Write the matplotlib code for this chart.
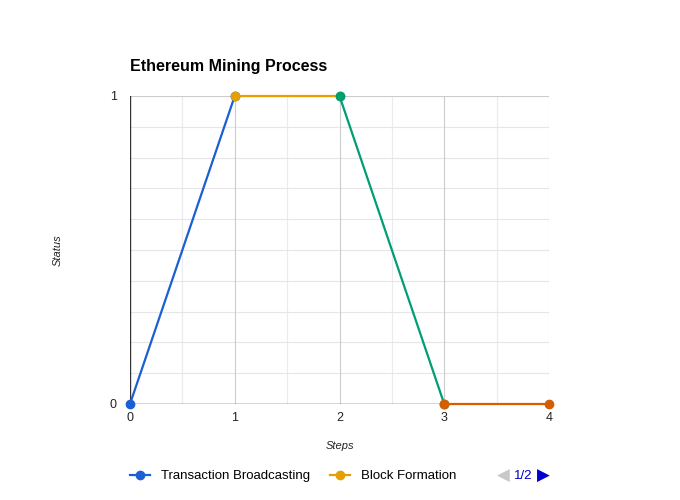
import matplotlib
matplotlib.use("Agg")
import matplotlib.pyplot as plt
from matplotlib.lines import Line2D
import numpy as np

plt.rcParams['font.family'] = ['Liberation Sans', 'DejaVu Sans']

title = "Ethereum Mining Process"
x_label = "Steps"
y_label = "Status"
series_names = ["Transaction Broadcasting", "Block Formation", "Block Validation", "Block Addition"]
series_x = [[0, 1], [1, 2], [2, 3], [3, 4]]
series_y = [[0, 1], [1, 1], [1, 0], [0, 0]]
colors = ["#1a5fd3", "#e69f00", "#009e73", "#d55e00"]
x_ticks = [0, 1, 2, 3, 4]
y_ticks = [0, 1]

fig = plt.figure(figsize=(6.8, 5.0), dpi=100)
ax = fig.add_axes([130/680, 1-404/500, (549-130)/680, (404-96)/500])

for xs, ys, c, n in zip(series_x, series_y, colors, series_names):
    ax.plot(xs, ys, color=c, lw=1.6, marker='o', markersize=6, label=n, zorder=3, clip_on=False)

ax.set_xlim(0, 4)
ax.set_ylim(0, 1)
# gridlines
for v in np.arange(0.5, 4, 1.0):
    ax.axvline(v, color="#ebebeb", lw=0.8, zorder=0)
for v in [1, 2, 3, 4]:
    ax.axvline(v, color="#cccccc", lw=0.8, zorder=1)
for v in np.arange(0.1, 1.0, 0.1):
    ax.axhline(v, color="#e6e6e6", lw=0.8, zorder=0)
ax.axhline(1, color="#cccccc", lw=0.8, zorder=1)

for s in ax.spines.values():
    s.set_visible(False)
ax.axvline(0, color="#333333", lw=1.0, zorder=2)
ax.axhline(0, color="#333333", lw=1.0, zorder=2)

ax.set_xticks(x_ticks)
ax.set_yticks(y_ticks)
ax.tick_params(axis='x', length=0, labelsize=9, colors="#222222", pad=6)
ax.tick_params(axis='y', length=0, labelsize=9, colors="#222222", pad=9.5)
ax.set_xlabel(x_label, fontsize=8, style='italic', color="#222222")
ax.set_ylabel(y_label, fontsize=8, style='italic', color="#222222")
ax.xaxis.set_label_coords(0.5, (404-441)/308)
ax.yaxis.set_label_coords((63-130)/419, 0.5)

fig.text(130/680, 1-67/500, title, fontsize=11.5, fontweight='bold', va='center', ha='left', color="#000000")

handles = [Line2D([0], [0], color=c, lw=1.6, marker='o', markersize=6) for c in colors[:2]]
leg = fig.legend(handles, series_names[:2], loc='center left', bbox_to_anchor=(130/680, 1-476/500),
                 ncol=2, frameon=False, fontsize=9.5, handlelength=1.5, columnspacing=1.5,
                 handletextpad=0.85, borderaxespad=0, borderpad=0)

# pagination
fig.text(503/680, 1-476/500, "◀", fontsize=12, color="#c8c8c8", ha='center', va='center', family='DejaVu Sans')
fig.text(523/680, 1-476/500, "1/2", fontsize=9.5, color="#0000cc", ha='center', va='center')
fig.text(543/680, 1-476/500, "▶", fontsize=12, color="#0000cc", ha='center', va='center', family='DejaVu Sans')

fig.savefig("out.png", dpi=100)
